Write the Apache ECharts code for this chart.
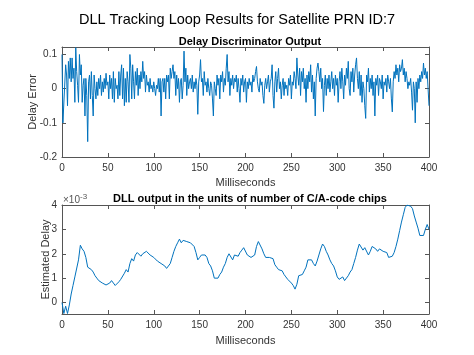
<!DOCTYPE html>
<html><head><meta charset="utf-8">
<script src="https://cdn.jsdelivr.net/npm/echarts@6/dist/echarts.min.js"></script>
<style>html,body{margin:0;padding:0;background:#fff}#c{width:474px;height:355px}</style>
</head><body><div id="c"></div>
<script>
// ---- Data ----
const mainTitle = "DLL Tracking Loop Results for Satellite PRN ID:7";
const topTitle = "Delay Discriminator Output";
const bottomTitle = "DLL output in the units of number of C/A-code chips";
const xLabel = "Milliseconds";
const topYLabel = "Delay Error";
const bottomYLabel = "Estimated Delay";
const xTicks = [0, 50, 100, 150, 200, 250, 300, 350, 400];
const topYTicks = [-0.2, -0.1, 0, 0.1];
const bottomYTicks = [0, 1, 2, 3, 4]; // x 10^-3

// Delay discriminator output, one value per millisecond (0..400)
const delayError = [
 0.10,-0.10,-0.10,-0.10,0.07,0.04,-0.05,0.08,0.03,0.09,0.02,0.09,0.03,0.06,-0.04,0.12,0.05,0.01,-0.04,0.10,
 0.04,0.07,-0.04,0.01,0.03,-0.08,0.03,-0.02,-0.155,0.02,0.04,-0.03,0.05,-0.02,-0.08,0.04,0.00,-0.03,0.02,-0.02,
 0.03,0.00,0.04,-0.02,0.02,-0.01,0.03,0.00,0.045,0.01,0.02,-0.03,0.04,0.00,0.03,-0.03,0.05,-0.04,0.03,0.00,
 0.01,-0.03,0.05,-0.02,0.04,0.07,-0.03,0.06,-0.05,0.03,-0.04,0.05,0.02,-0.04,0.10,0.06,-0.03,0.07,0.02,-0.03,
 0.05,0.01,0.06,-0.02,0.04,0.00,0.05,0.02,0.08,0.03,0.05,-0.01,0.04,0.01,0.02,-0.01,0.03,0.00,0.01,-0.01,
 0.02,0.00,-0.02,0.01,0.00,0.03,-0.01,0.03,-0.08,0.02,0.03,-0.01,0.03,-0.03,0.04,0.02,0.04,-0.03,0.06,0.03,
 0.05,0.07,0.03,0.05,-0.02,0.04,0.00,0.03,-0.04,0.02,0.03,-0.03,0.01,0.11,0.02,0.06,-0.02,0.04,0.00,0.02,
 0.03,0.00,0.04,-0.01,0.02,0.00,0.03,0.01,-0.075,0.02,0.04,0.085,0.02,0.03,-0.02,0.05,0.01,0.02,-0.01,0.03,
 0.00,-0.02,0.02,0.01,-0.03,-0.08,0.02,0.00,-0.02,0.04,0.01,0.03,-0.03,0.04,0.02,0.05,-0.01,0.03,0.01,0.06,
 0.10,0.02,0.05,-0.02,0.03,0.01,0.04,0.00,0.03,0.02,0.04,-0.01,0.03,0.00,-0.04,0.03,0.01,0.04,-0.01,0.02,
 0.03,-0.04,0.02,0.00,0.03,0.01,0.02,-0.01,0.04,0.02,0.03,0.05,0.065,0.02,0.00,-0.01,0.03,0.01,0.02,-0.02,
 -0.043,0.01,0.03,0.00,0.02,0.04,-0.01,0.02,0.03,0.07,-0.02,-0.057,0.02,0.05,-0.01,0.03,0.06,0.00,0.02,-0.03,
 0.01,0.03,-0.02,0.02,0.00,0.01,-0.02,0.03,0.01,0.04,-0.03,0.02,0.01,0.05,0.03,0.00,0.09,0.04,0.01,0.06,
 -0.02,0.05,0.02,0.06,0.00,0.03,-0.04,0.04,0.00,0.05,0.02,0.07,-0.01,0.04,-0.03,0.02,-0.08,0.03,0.06,0.075,
 0.05,0.02,0.06,0.00,0.03,-0.067,0.01,0.04,-0.02,0.03,0.00,0.04,-0.01,0.02,0.05,0.00,0.03,-0.02,0.04,0.01,
 0.03,-0.04,0.02,0.05,0.00,0.06,0.02,-0.03,0.04,0.01,0.06,0.03,0.08,0.00,-0.02,0.05,0.02,0.06,-0.01,0.04,
 0.07,0.09,0.03,0.00,0.05,-0.02,0.04,-0.04,0.02,0.00,-0.05,-0.087,0.04,0.02,0.06,-0.01,0.03,0.00,0.04,-0.02,
 0.02,-0.08,0.03,0.01,0.04,-0.02,0.03,0.02,0.00,0.04,-0.03,0.02,0.01,0.03,-0.01,0.04,0.02,0.00,0.03,-0.03,
 -0.068,0.02,0.05,0.03,0.07,0.04,0.06,0.02,0.07,0.05,0.06,0.085,0.04,0.06,0.02,0.05,0.03,0.00,0.02,0.01,
 0.03,-0.01,-0.063,0.02,0.00,-0.10,0.02,-0.04,0.03,0.00,0.04,0.02,0.05,0.03,0.075,0.04,0.06,0.03,0.05,0.00,-0.05
];

// Estimated delay (units of 1e-3 chips), one value every 2 ms (0..400)
const estDelayStepMs = 2;
const estDelayE3 = [
 0.0,-0.45,-0.15,-0.45,-0.1,0.35,0.7,1.05,1.0,1.75,
 2.35,2.2,2.1,1.85,1.45,1.4,1.35,1.25,1.1,1.0,
 0.9,0.85,0.8,0.72,0.72,0.75,0.8,0.9,0.8,0.7,
 0.78,0.85,0.95,0.9,1.2,1.35,1.25,1.6,1.8,1.7,
 1.95,2.05,2.1,1.9,2.0,2.05,2.1,2.05,1.95,1.9,
 1.85,1.8,1.7,1.75,1.6,1.55,1.5,1.4,1.38,1.6,
 1.85,2.1,2.3,2.45,2.6,2.45,2.55,2.6,2.5,2.55,
 2.45,2.4,2.3,2.05,1.75,1.85,1.95,2.0,1.95,1.85,
 1.6,1.5,1.3,1.0,1.05,1.0,1.15,1.25,1.45,1.6,
 1.85,2.0,1.95,1.75,1.95,2.0,1.9,2.05,2.15,2.25,
 2.2,1.95,1.9,1.85,1.9,1.95,2.3,2.5,2.45,2.2,
 2.0,1.85,1.8,1.85,1.9,1.8,1.55,1.45,1.35,1.4,
 1.3,1.15,1.05,0.95,0.9,0.8,0.7,0.55,0.75,1.1,
 1.05,1.15,1.3,1.45,1.75,1.7,1.75,1.6,1.5,1.7,
 1.95,2.2,2.4,2.3,2.1,1.95,1.75,1.6,1.5,1.3,
 1.05,0.95,0.98,1.05,0.9,0.85,1.1,1.25,1.35,1.6,
 1.85,2.15,2.4,2.35,2.15,2.25,2.2,1.95,2.1,2.3,
 2.35,2.2,2.1,2.2,2.25,2.1,2.15,2.05,1.85,1.8,
 1.9,2.05,2.3,2.6,2.95,3.3,3.6,3.9,4.0,4.0,
 3.95,3.85,3.55,3.3,3.05,2.75,2.7,2.75,3.0,3.2,
 3.0
];

// ---- Chart ----
const lineColor = '#0072BD';
const axisColor = '#555555';
const labelColor = '#333333';
const font = 'Liberation Sans, Arial, Helvetica, sans-serif';
const G1 = {left: 62, right: 45, top: 47, height: 110};
const G2 = {left: 62, right: 45, top: 205, height: 109};

function xAx(gi, pos, labels) {
  return {
    type: 'value', gridIndex: gi, position: pos, min: 0, max: 400, interval: 50,
    axisLine: {show: true, onZero: false, lineStyle: {color: axisColor, width: 1}},
    axisTick: {show: true, inside: true, length: 4, customValues: xTicks, lineStyle: {color: axisColor}},
    axisLabel: {show: labels, customValues: xTicks, color: labelColor, fontFamily: font, fontSize: 10, margin: 6},
    splitLine: {show: false}
  };
}
function yAx(gi, pos, min, max, ticks, labels) {
  return {
    type: 'value', gridIndex: gi, position: pos, min: min, max: max,
    axisLine: {show: true, onZero: false, lineStyle: {color: axisColor, width: 1}},
    axisTick: {show: true, inside: true, length: 4, customValues: ticks, lineStyle: {color: axisColor}},
    axisLabel: {show: labels, customValues: ticks, color: labelColor, fontFamily: font, fontSize: 10, margin: 5},
    splitLine: {show: false}
  };
}

const topData = delayError.map((v, i) => [i, v]);
const botData = estDelayE3.map((v, i) => [i * estDelayStepMs, v]);

const chart = echarts.init(document.getElementById('c'), null, {renderer: 'canvas'});
chart.setOption({
  backgroundColor: '#ffffff',
  animation: false,
  title: [
    {text: mainTitle, left: 'center', top: 7, textStyle: {fontFamily: font, fontSize: 14.5, fontWeight: 'normal', color: '#000'}},
    {text: topTitle, left: 245, textAlign: 'center', top: 31, textStyle: {fontFamily: font, fontSize: 11, fontWeight: 'bold', color: '#000'}},
    {text: bottomTitle, left: 245, textAlign: 'center', top: 188, textStyle: {fontFamily: font, fontSize: 11, fontWeight: 'bold', color: '#000'}}
  ],
  grid: [G1, G2],
  xAxis: [
    Object.assign(xAx(0, 'bottom', true), {name: xLabel, nameLocation: 'middle', nameGap: 20, nameMoveOverlap: false, nameTextStyle: {fontFamily: font, fontSize: 11, color: labelColor}}),
    xAx(0, 'top', false),
    Object.assign(xAx(1, 'bottom', true), {name: xLabel, nameLocation: 'middle', nameGap: 21, nameMoveOverlap: false, nameTextStyle: {fontFamily: font, fontSize: 11, color: labelColor}}),
    xAx(1, 'top', false)
  ],
  yAxis: [
    Object.assign(yAx(0, 'left', -0.2, 0.122, topYTicks, true), {name: topYLabel, nameLocation: 'middle', nameGap: 24, nameMoveOverlap: false, nameTextStyle: {fontFamily: font, fontSize: 11, color: labelColor}}),
    yAx(0, 'right', -0.2, 0.122, topYTicks, false),
    Object.assign(yAx(1, 'left', -0.47, 4, bottomYTicks, true), {name: bottomYLabel, nameLocation: 'middle', nameGap: 11, nameMoveOverlap: false, nameTextStyle: {fontFamily: font, fontSize: 11, color: labelColor}}),
    yAx(1, 'right', -0.47, 4, bottomYTicks, false)
  ],
  graphic: [{
    type: 'text', left: 63, top: 193,
    style: {
      text: '×10{sup|-3}', fill: '#555', font: '10px ' + font,
      rich: {sup: {fontSize: 8, verticalAlign: 'top', padding: [0, 0, 6, 0], fill: '#555'}}
    }
  }],
  series: [
    {type: 'line', xAxisIndex: 0, yAxisIndex: 0, data: topData, showSymbol: false, clip: true,
     lineStyle: {color: lineColor, width: 1}},
    {type: 'line', xAxisIndex: 2, yAxisIndex: 2, data: botData, showSymbol: false, clip: true,
     lineStyle: {color: lineColor, width: 1}}
  ]
});
</script></body></html>
